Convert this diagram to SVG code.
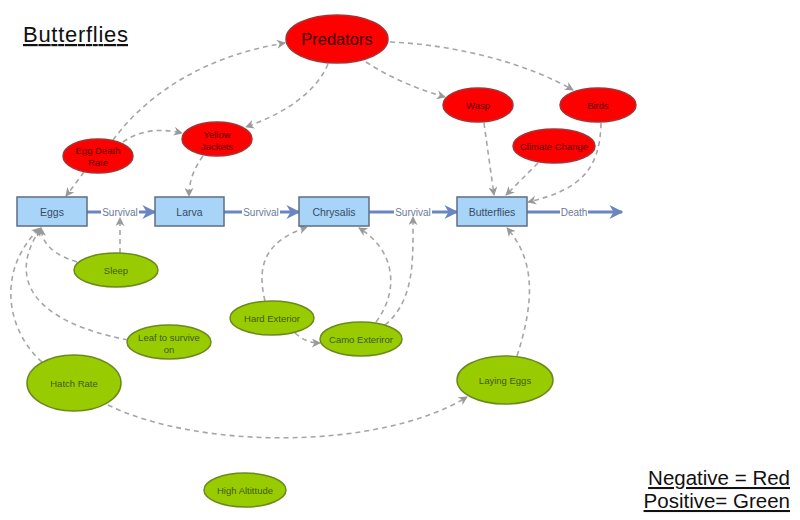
<svg xmlns="http://www.w3.org/2000/svg" width="800" height="520" viewBox="0 0 800 520">
<defs>
<marker id="ga" viewBox="0 0 10 10" refX="9" refY="5" markerWidth="9" markerHeight="9" markerUnits="userSpaceOnUse" orient="auto">
<path d="M0,0 L10,5 L0,10 L3,5 Z" fill="#999"/>
</marker>
<marker id="ba" viewBox="0 0 10 10" refX="9" refY="5" markerWidth="14" markerHeight="14" markerUnits="userSpaceOnUse" orient="auto">
<path d="M0,0 L10,5 L0,10 L3,5 Z" fill="#6a86c0"/>
</marker>
</defs>
<style>
.bg{fill:#ffffff}
.link{fill:none;stroke:#a6a6a6;stroke-width:1.6;stroke-dasharray:5 4;marker-end:url(#ga)}
.pipe{fill:none;stroke:#6a86c0;stroke-width:3}
.pipeh{fill:none;stroke:#6a86c0;stroke-width:3;marker-end:url(#ba)}
.flab{font-family:"Liberation Sans",Arial,sans-serif;font-size:10px;fill:#6a7a9a;text-anchor:middle}
.stock rect{fill:#a8d4f7;stroke:#5e6e82;stroke-width:1.5}
.stock text{font-family:"Liberation Sans",Arial,sans-serif;font-size:10.5px;fill:#3a4a66;text-anchor:middle}
.neg ellipse{fill:#ff0000;stroke:#a83232;stroke-width:1.5}
.neg text{font-family:"Liberation Sans",Arial,sans-serif;font-size:9.5px;fill:#5a0000;text-anchor:middle}
.pos ellipse{fill:#99cc00;stroke:#6b8a1e;stroke-width:1.5}
.pos text{font-family:"Liberation Sans",Arial,sans-serif;font-size:9.5px;fill:#3f5a12;text-anchor:middle}
.title{font-family:"Liberation Sans",Arial,sans-serif;font-size:22px;fill:#111;text-decoration:underline}
.legend{font-family:"Liberation Sans",Arial,sans-serif;font-size:20.5px;fill:#111;text-anchor:end;text-decoration:underline}
</style>
<rect class="bg" x="0" y="0" width="800" height="520"/>
<text class="title" x="23" y="42" textLength="105">Butterflies</text>
<text class="legend" x="790" y="485">Negative = Red</text>
<text class="legend" x="790" y="508">Positive= Green</text>

<g id="connectors">
<path class="link" d="M113,140 C150,90 210,55 285,43"/>
<path class="link" d="M123,142 C140,130 160,128 182,133"/>
<path class="link" d="M84,172 L66,196"/>
<path class="link" d="M328,64 C315,95 280,115 246,127"/>
<path class="link" d="M366,62 C390,78 420,90 445,97"/>
<path class="link" d="M390,42 C460,45 530,65 573,90"/>
<path class="link" d="M203,156 C193,170 189,182 189,196"/>
<path class="link" d="M484,123 L494,195"/>
<path class="link" d="M538,163 L506,195"/>
<path class="link" d="M601,123 C600,170 580,190 528,202"/>
<path class="link" d="M77,262 C55,255 42,245 41,228"/>
<path class="link" d="M120,253 L120,218"/>
<path class="link" d="M128,340 C35,322 5,280 41,228"/>
<path class="link" d="M42,362 C6,330 -4,270 40,228"/>
<path class="link" d="M108,405 C200,450 380,450 467,397"/>
<path class="link" d="M265,301 C255,260 270,240 307,227"/>
<path class="link" d="M295,333 C303,340 310,343 320,343"/>
<path class="link" d="M376,322 C400,290 395,250 359,228"/>
<path class="link" d="M385,325 C415,300 413,260 413,217"/>
<path class="link" d="M517,356 C535,300 535,260 507,228"/>
<!-- flows -->
<path class="pipe" d="M87,212 L101,212"/>
<path class="pipeh" d="M139,212 L155,212"/>
<text class="flab" x="120" y="215.5">Survival</text>
<path class="pipe" d="M224,212 L242,212"/>
<path class="pipeh" d="M280,212 L299,212"/>
<text class="flab" x="261" y="215.5">Survival</text>
<path class="pipe" d="M369,212 L394,212"/>
<path class="pipeh" d="M432,212 L457,212"/>
<text class="flab" x="413" y="215.5">Survival</text>
<path class="pipe" d="M527,212 L560,212"/>
<path class="pipeh" d="M588,212 L622,212"/>
<text class="flab" x="574" y="215.5">Death</text>
</g>

<g id="eggs" class="stock"><rect x="17" y="197" width="70" height="29"/><text x="52" y="215.5">Eggs</text></g>
<g id="larva" class="stock"><rect x="155" y="197" width="69" height="29"/><text x="189.5" y="215.5">Larva</text></g>
<g id="chrysalis" class="stock"><rect x="299" y="197" width="70" height="29"/><text x="334" y="215.5">Chrysalis</text></g>
<g id="butterflies" class="stock"><rect x="457" y="197" width="70" height="29"/><text x="492" y="215.5">Butterflies</text></g>

<g id="predators" class="neg"><ellipse cx="337" cy="39" rx="51" ry="24"/><text x="337" y="45" style="font-size:16.5px;fill:#3a0000">Predators</text></g>
<g id="egg-death-rate" class="neg"><ellipse cx="98" cy="156" rx="35" ry="17"/><text x="98" y="154">Egg Death</text><text x="98" y="166">Rate</text></g>
<g id="yellow-jackets" class="neg"><ellipse cx="217" cy="139" rx="35" ry="17"/><text x="217" y="138">Yellow</text><text x="217" y="150">Jackets</text></g>
<g id="wasp" class="neg"><ellipse cx="478" cy="105" rx="35" ry="17"/><text x="478" y="109">Wasp</text></g>
<g id="birds" class="neg"><ellipse cx="598" cy="105" rx="38" ry="17"/><text x="598" y="109">Birds</text></g>
<g id="climate-change" class="neg"><ellipse cx="554" cy="146" rx="41" ry="17"/><text x="554" y="150">Climate Change</text></g>

<g id="sleep" class="pos"><ellipse cx="116" cy="270" rx="42" ry="17"/><text x="116" y="274">Sleep</text></g>
<g id="leaf" class="pos"><ellipse cx="169" cy="342" rx="42" ry="17"/><text x="169" y="341">Leaf to survive</text><text x="169" y="353">on</text></g>
<g id="hatch-rate" class="pos"><ellipse cx="74" cy="383" rx="47" ry="28"/><text x="74" y="387">Hatch Rate</text></g>
<g id="hard-exterior" class="pos"><ellipse cx="272" cy="318" rx="42" ry="17"/><text x="272" y="322">Hard Exterior</text></g>
<g id="camo-exterior" class="pos"><ellipse cx="361" cy="339" rx="41" ry="17"/><text x="361" y="343">Camo Exteriror</text></g>
<g id="laying-eggs" class="pos"><ellipse cx="505" cy="380" rx="48" ry="24"/><text x="505" y="384">Laying Eggs</text></g>
<g id="high-altitude" class="pos"><ellipse cx="245" cy="490" rx="41" ry="17"/><text x="245" y="494">High Altittude</text></g>
</svg>
